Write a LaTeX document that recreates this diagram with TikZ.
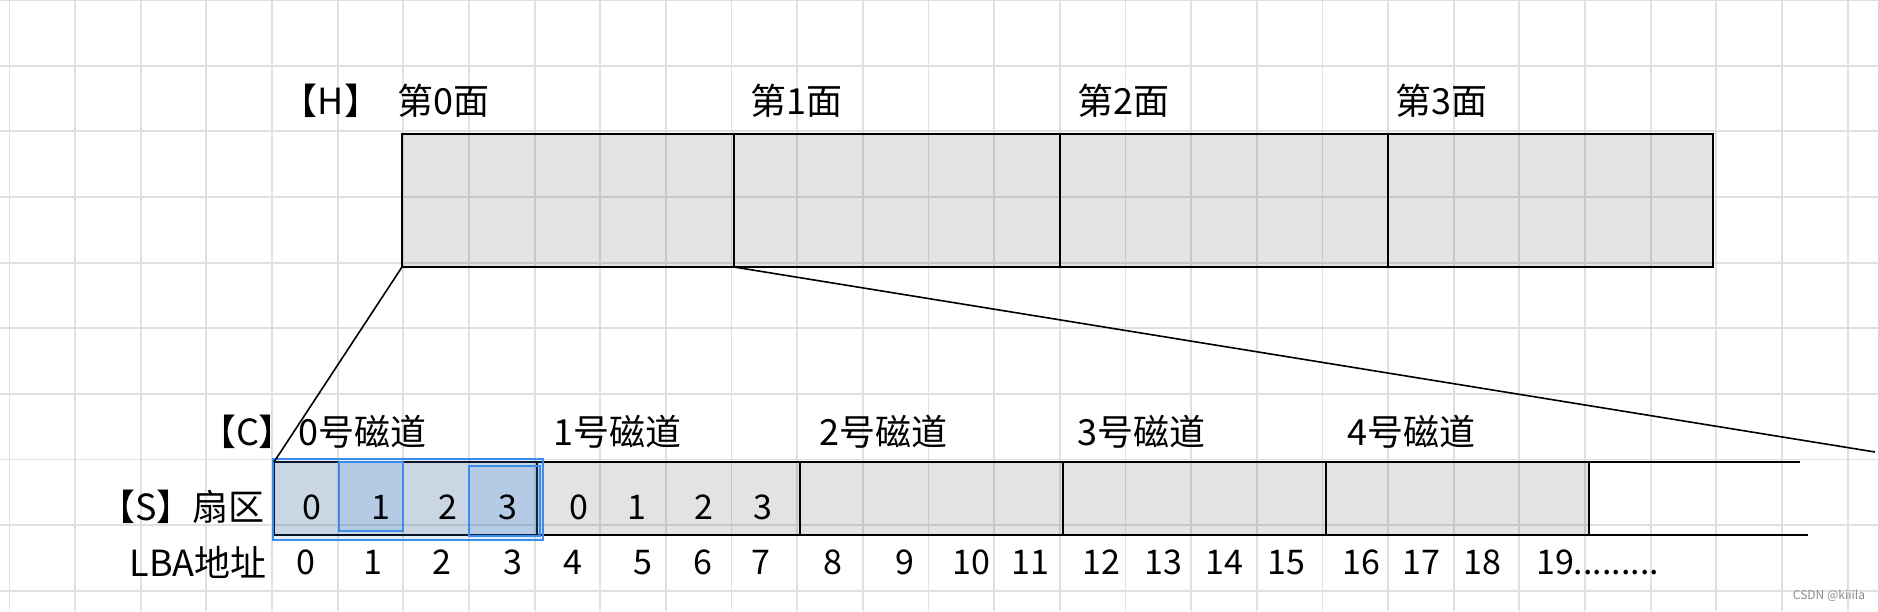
\documentclass[tikz,border=0pt]{standalone}
\usepackage{fontspec}
\setmainfont{Noto Sans CJK SC}
\usetikzlibrary{positioning,backgrounds}
\definecolor{gridgray}{HTML}{E0E0E0}
\definecolor{selblue}{HTML}{3C8CEB}

\begin{document}
\begin{tikzpicture}[x=1pt,y=-1pt,
	gridline/.style={gridgray,line width=1.8pt},
	face/.style={draw=black,line width=2.2pt,fill=black,fill opacity=0.11,minimum height=133pt,inner sep=0pt,outer sep=0pt,anchor=north west},
	track/.style={draw=black,line width=1.6pt,fill=black,fill opacity=0.11,minimum width=263pt,minimum height=73pt,inner sep=0pt,outer sep=0pt,anchor=north west},
	selbox/.style={draw=selblue,line width=1.8pt,fill=selblue,fill opacity=0.15,inner sep=0pt,outer sep=0pt,anchor=north west},
	lbl/.style={inner sep=0pt,font=\fontsize{36}{40}\selectfont},
	num/.style={inner sep=0pt,anchor=base,font=\fontsize{34}{40}\selectfont}]
\useasboundingbox (0,0) rectangle (1878,611);

\begin{pgfonlayer}{background}
\foreach \k in {0,...,28} \draw[gridline] (9.4+65.65*\k,0) -- (9.4+65.65*\k,611);
\foreach \k in {0,...,9} \draw[gridline] (0,65.65*\k) -- (1878,65.65*\k);
\end{pgfonlayer}

\foreach \x/\w [count=\i from 0] in {402/332,734/326,1060/328,1388/325}
	\node[face,minimum width=\w pt] (F\i) at (\x,134) {};
\foreach \i in {0,...,4} \node[track] (T\i) at (274+263*\i,462) {};
\draw[line width=2.2pt] (T0.north west) -- (T4.north east) -- (1800,462) coordinate (Tend);
\draw[line width=2.2pt] (T0.south west) -- (T4.south east) -- (1808,535) coordinate (Bend);

\node[selbox,minimum width=270pt,minimum height=81pt] (SEL) at (273,459) {};
\node[selbox,minimum width=64pt,minimum height=69pt] (SEL1) at (339,462) {};
\node[selbox,minimum width=71pt,minimum height=70pt] (SEL3) at (469,466) {};

\coordinate (tail) at (1875,452);
\draw[line width=1.6pt] (F0.south west) -- (T0.north west);
\draw[line width=1.6pt] (F1.south west) -- (tail);

\node[lbl] (H) at (331,101) {【H】};
\foreach \x [count=\i from 0] in {397,750,1077,1395}
	\node[lbl,anchor=west] (FL\i) at (\x,101) {第\i{}面};
\node[lbl] (C) at (247.5,432) {【C】};
\foreach \x [count=\i from 0] in {298,553,819,1077,1347}
	\node[lbl,anchor=west] (TL\i) at (\x,432) {\i{}号磁道};

\node[lbl,anchor=east] (S) at (265,507) {【S】扇区};
\foreach \x [count=\i from 0] in {312,381,448,508,578.5,637,704,763}{
	\pgfmathtruncatemacro\secno{mod(\i,4)}
	\node[num] (S\i) at (\x,519.5) {\secno};
}
\node[lbl,anchor=east] (LBA) at (267,562) {LBA地址};
\foreach \x [count=\i from 0] in {306,373,442,513,572.5,643,703,761,833,905,971,1030,1101,1163,1224,1286,1361,1421,1482}
	\node[num] (L\i) at (\x,574.5) {\i};
\node[num,anchor=base west] (L19) at (1536,574.5) {19.........};

\node[inner sep=0pt,text=black!45,font=\fontsize{12}{14}\selectfont] (wm) at (1829,596) {CSDN @kiiila};
\end{tikzpicture}
\end{document}
